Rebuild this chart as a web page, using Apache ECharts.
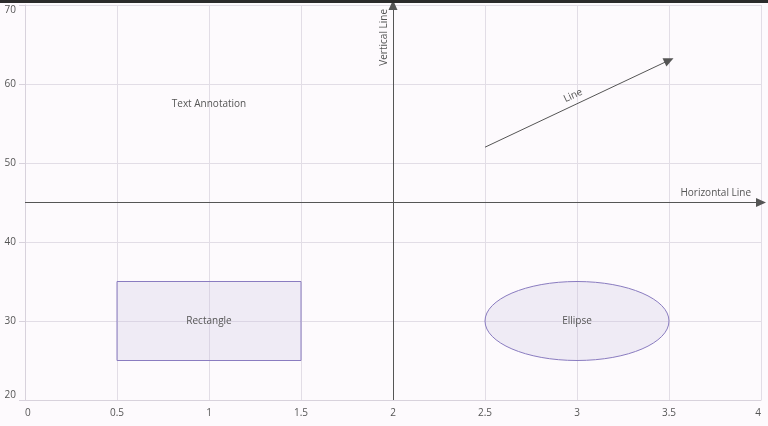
<!DOCTYPE html>
<html><head><meta charset="utf-8">
<script src="https://cdn.jsdelivr.net/npm/echarts@6/dist/echarts.min.js"></script>
<style>html,body{margin:0;padding:0;background:#fdfafd}#c{width:768px;height:426px;border-top:3px solid #2b2b2b;box-sizing:border-box}</style>
</head><body><div id="c"></div>
<script>
const xTicks = [0, 0.5, 1, 1.5, 2, 2.5, 3, 3.5, 4];
const yTicks = [20, 30, 40, 50, 60, 70];
const lineSeg = [[2.5, 52], [3.5, 63]];
const hLineY = 45;
const vLineX = 2;
const rect = [0.5, 25, 1.5, 35];
const ellipse = [3, 30, 0.5, 5];
const textAnno = [1, 57.5, 'Text Annotation'];

const chart = echarts.init(document.getElementById('c'));
const fg = '#555';
const shapeStyle = {fill: 'rgba(200,190,225,0.25)', stroke: '#8a7cc0', lineWidth: 1};
chart.setOption({
  backgroundColor: '#fdfafd',
  animation: false,
  grid: {left: 25, right: 7, top: 2, bottom: 26},
  xAxis: {type: 'value', min: 0, max: 4, interval: 0.5,
    axisLine: {show: true, lineStyle: {color: '#d8d2dc'}},
    axisTick: {show: false},
    axisLabel: {color: fg, fontFamily: 'Open Sans', fontSize: 10, margin: 8, alignMinLabel: 'left', alignMaxLabel: 'right'},
    splitLine: {lineStyle: {color: '#e2dde6'}}},
  yAxis: {type: 'value', min: 20, max: 70, interval: 10,
    axisLine: {show: true, lineStyle: {color: '#d8d2dc'}},
    axisTick: {show: true, length: 6, lineStyle: {color: '#d8d2dc'}},
    axisLabel: {color: fg, fontFamily: 'Open Sans', fontSize: 10, margin: 9, verticalAlignMaxLabel: 'top', verticalAlignMinLabel: 'bottom'},
    splitLine: {lineStyle: {color: '#e2dde6'}}},
  series: [
    {type: 'custom', data: [rect], renderItem: (p, api) => {
      const a = api.coord([api.value(0), api.value(1)]), b = api.coord([api.value(2), api.value(3)]);
      return {type: 'group', children: [
        {type: 'rect', shape: {x: a[0], y: b[1], width: b[0]-a[0], height: a[1]-b[1]}, style: shapeStyle},
        {type: 'text', x: (a[0]+b[0])/2, y: (a[1]+b[1])/2, style: {text: 'Rectangle', fill: fg, fontSize: 10, fontFamily: 'Open Sans', align: 'center', verticalAlign: 'middle'}}
      ]};
    }},
    {type: 'custom', data: [ellipse], renderItem: (p, api) => {
      const c = api.coord([api.value(0), api.value(1)]);
      const e = api.coord([api.value(0)+api.value(2), api.value(1)+api.value(3)]);
      return {type: 'group', children: [
        {type: 'ellipse', shape: {cx: c[0], cy: c[1], rx: e[0]-c[0], ry: c[1]-e[1]}, style: shapeStyle},
        {type: 'text', x: c[0], y: c[1], style: {text: 'Ellipse', fill: fg, fontSize: 10, fontFamily: 'Open Sans', align: 'center', verticalAlign: 'middle'}}
      ]};
    }},
    {type: 'custom', data: [textAnno], renderItem: (p, api) => {
      const c = api.coord([api.value(0), api.value(1)]);
      return {type: 'text', x: c[0], y: c[1], style: {text: textAnno[2], fill: fg, fontSize: 10, fontFamily: 'Open Sans', align: 'center', verticalAlign: 'middle'}};
    }},
    {type: 'line', data: [], markLine: {silent: true, symbol: ['none', 'triangle'], symbolSize: [9, 10],
      lineStyle: {color: '#555', type: 'solid', width: 1},
      label: {show: true, color: fg, fontSize: 10, fontFamily: 'Open Sans'},
      data: [
        [{coord: lineSeg[0]}, {coord: lineSeg[1], label: {formatter: 'Line', position: 'middle', distance: 4}}],
        [{coord: [0, hLineY]}, {coord: [4, hLineY], label: {formatter: 'Horizontal Line', position: 'insideEndTop', distance: [10, 4]}}],
        [{coord: [vLineX, 20]}, {coord: [vLineX, 70], label: {formatter: 'Vertical Line', position: 'insideEndTop', distance: [4, 4]}}]
      ]}}
  ]
});
</script></body></html>
